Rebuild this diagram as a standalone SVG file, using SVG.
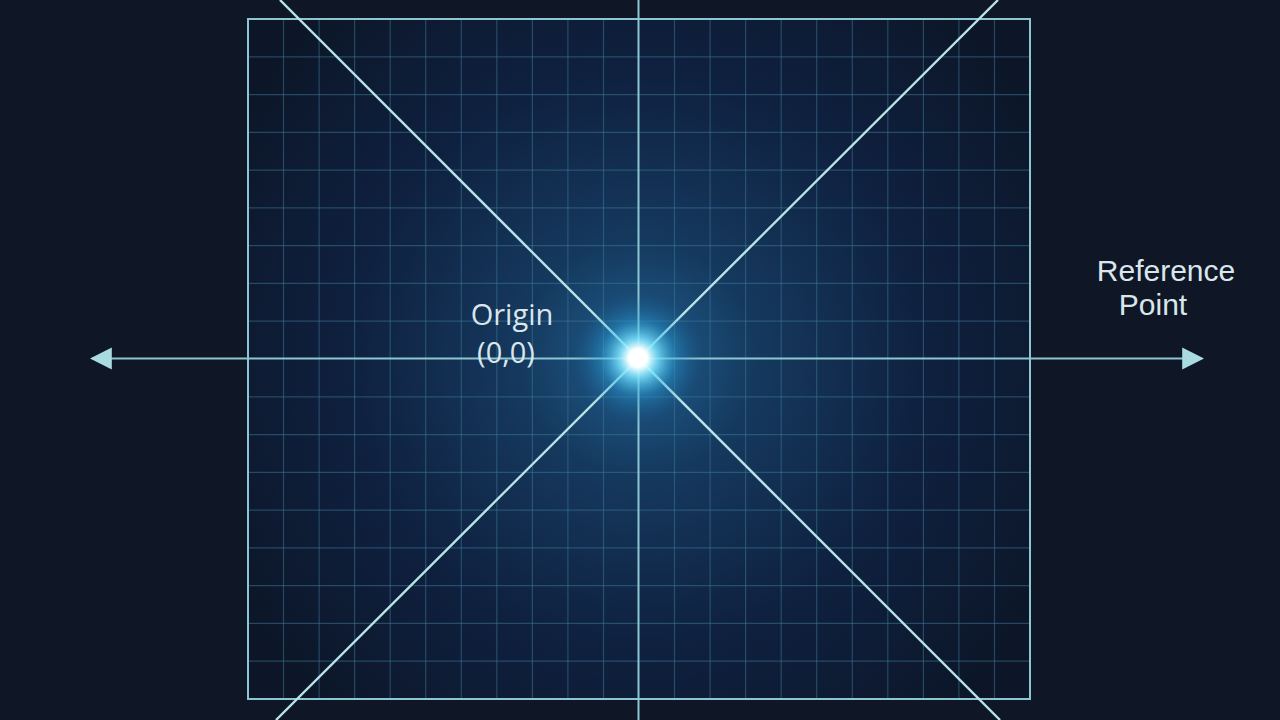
<svg xmlns="http://www.w3.org/2000/svg" width="1280" height="720" viewBox="0 0 1280 720">
<defs>
<radialGradient id="bgGlow" cx="638" cy="358" r="470" gradientUnits="userSpaceOnUse">
<stop offset="0" stop-color="#1f5f90"/>
<stop offset="0.25" stop-color="#15395e"/>
<stop offset="0.6" stop-color="#0f2140"/>
<stop offset="1" stop-color="#0c1628"/>
</radialGradient>
<radialGradient id="core" cx="638" cy="358" r="64" gradientUnits="userSpaceOnUse">
<stop offset="0" stop-color="#ffffff"/>
<stop offset="0.15" stop-color="#f4ffff"/>
<stop offset="0.3" stop-color="#7fe6ff" stop-opacity="0.85"/>
<stop offset="0.6" stop-color="#2aa8e0" stop-opacity="0.35"/>
<stop offset="1" stop-color="#1a6aa0" stop-opacity="0"/>
</radialGradient>
<marker id="arrow" viewBox="0 0 10 10" refX="9" refY="5" markerWidth="22" markerHeight="26" markerUnits="userSpaceOnUse" orient="auto-start-reverse">
<path d="M0,0 L10,5 L0,10 Z" fill="#a9dbe0"/>
</marker>
<style>
.grid line{stroke:#3b7a98;stroke-width:1.2;stroke-opacity:0.5}
.axis{stroke:#8cc6d2;stroke-width:2;fill:none}
.diag{stroke:#b8e4e8;stroke-width:2.4}
.lbl{font-family:"Open Sans","Noto Sans",sans-serif;fill:#dbe6ec}
.lbl2{font-family:"Liberation Sans",Arial,sans-serif;fill:#dbe6ec}
</style>
</defs>
<rect width="1280" height="720" fill="#0f1726"/>
<rect x="248" y="19" width="782" height="680" fill="url(#bgGlow)"/>
<g class="grid" id="grid">
<line x1="283.5" y1="19" x2="283.5" y2="699"/>
<line x1="319.1" y1="19" x2="319.1" y2="699"/>
<line x1="354.6" y1="19" x2="354.6" y2="699"/>
<line x1="390.2" y1="19" x2="390.2" y2="699"/>
<line x1="425.7" y1="19" x2="425.7" y2="699"/>
<line x1="461.3" y1="19" x2="461.3" y2="699"/>
<line x1="496.8" y1="19" x2="496.8" y2="699"/>
<line x1="532.4" y1="19" x2="532.4" y2="699"/>
<line x1="567.9" y1="19" x2="567.9" y2="699"/>
<line x1="603.5" y1="19" x2="603.5" y2="699"/>
<line x1="674.5" y1="19" x2="674.5" y2="699"/>
<line x1="710.1" y1="19" x2="710.1" y2="699"/>
<line x1="745.6" y1="19" x2="745.6" y2="699"/>
<line x1="781.2" y1="19" x2="781.2" y2="699"/>
<line x1="816.7" y1="19" x2="816.7" y2="699"/>
<line x1="852.3" y1="19" x2="852.3" y2="699"/>
<line x1="887.8" y1="19" x2="887.8" y2="699"/>
<line x1="923.4" y1="19" x2="923.4" y2="699"/>
<line x1="958.9" y1="19" x2="958.9" y2="699"/>
<line x1="994.5" y1="19" x2="994.5" y2="699"/>
<line x1="248" y1="56.8" x2="1030" y2="56.8"/>
<line x1="248" y1="94.6" x2="1030" y2="94.6"/>
<line x1="248" y1="132.3" x2="1030" y2="132.3"/>
<line x1="248" y1="170.1" x2="1030" y2="170.1"/>
<line x1="248" y1="207.9" x2="1030" y2="207.9"/>
<line x1="248" y1="245.7" x2="1030" y2="245.7"/>
<line x1="248" y1="283.4" x2="1030" y2="283.4"/>
<line x1="248" y1="321.2" x2="1030" y2="321.2"/>
<line x1="248" y1="396.8" x2="1030" y2="396.8"/>
<line x1="248" y1="434.6" x2="1030" y2="434.6"/>
<line x1="248" y1="472.3" x2="1030" y2="472.3"/>
<line x1="248" y1="510.1" x2="1030" y2="510.1"/>
<line x1="248" y1="547.9" x2="1030" y2="547.9"/>
<line x1="248" y1="585.7" x2="1030" y2="585.7"/>
<line x1="248" y1="623.4" x2="1030" y2="623.4"/>
<line x1="248" y1="661.2" x2="1030" y2="661.2"/>
</g>
<g id="frame">
<rect class="axis" x="248" y="19" width="782" height="680"/>
</g>
<g id="connectors">
<line class="axis" x1="638.5" y1="0" x2="638.5" y2="720"/>
<line class="axis" x1="92" y1="358.5" x2="1202" y2="358.5" marker-start="url(#arrow)" marker-end="url(#arrow)"/>
<line class="diag" x1="280" y1="0" x2="1000" y2="720"/>
<line class="diag" x1="998" y1="0" x2="276" y2="720"/>
</g>
<g id="origin">
<circle cx="638" cy="358" r="64" fill="url(#core)"/>
<circle cx="638" cy="358" r="9" fill="#ffffff"/>
<text class="lbl" x="512" y="325" font-size="29" text-anchor="middle">Origin</text>
<text class="lbl" x="506" y="363" font-size="29" text-anchor="middle">(0,0)</text>
</g>
<g id="reference-point">
<text class="lbl2" x="1166" y="281" font-size="30" text-anchor="middle">Reference</text>
<text class="lbl2" x="1153" y="315" font-size="30" text-anchor="middle">Point</text>
</g>
</svg>
